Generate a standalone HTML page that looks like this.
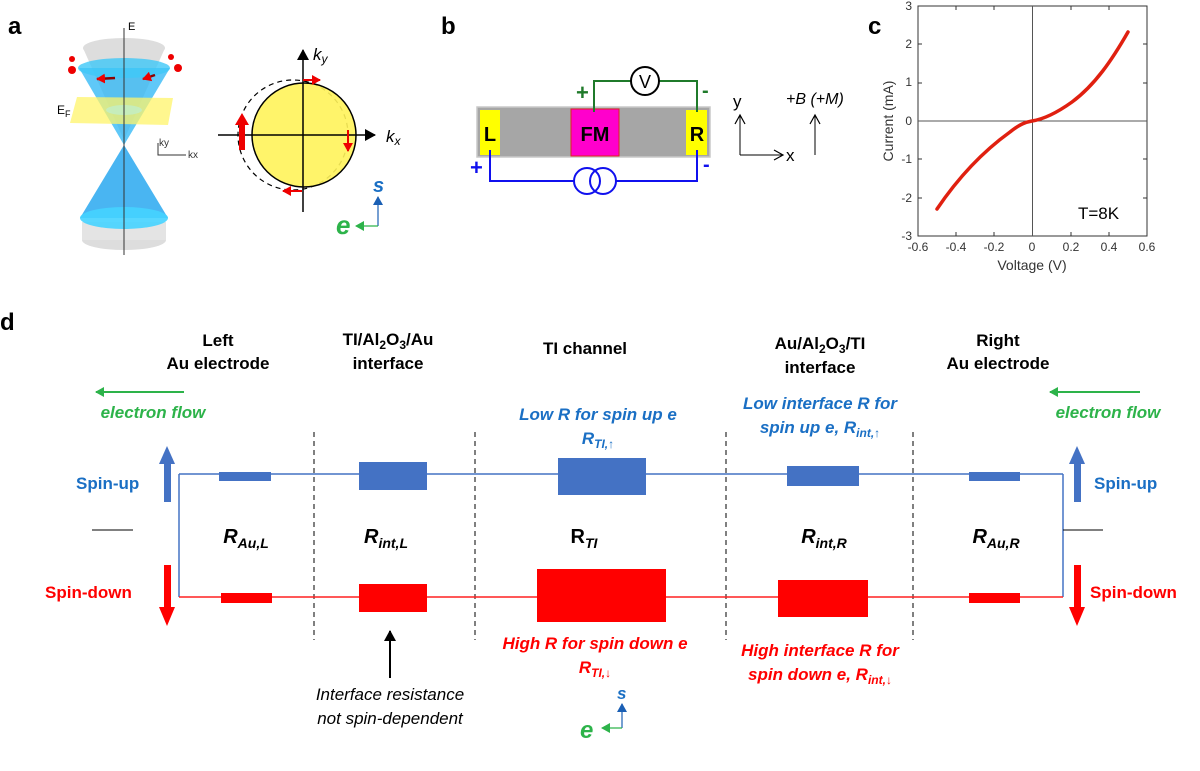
<!DOCTYPE html>
<html><head><meta charset="utf-8"><style>
html,body{margin:0;padding:0;background:#fff;}
svg{display:block;font-family:"Liberation Sans",sans-serif;}
.b{font-weight:bold}
.i{font-style:italic}
</style></head><body>
<svg width="1200" height="771" viewBox="0 0 1200 771" xmlns="http://www.w3.org/2000/svg">
<defs>
<marker id="ab" markerWidth="10" markerHeight="10" refX="8" refY="5" orient="auto" markerUnits="userSpaceOnUse"><path d="M0,0 L9,5 L0,10 z" fill="#1a5fb4"/></marker>
<marker id="ag" markerWidth="10" markerHeight="10" refX="8" refY="5" orient="auto" markerUnits="userSpaceOnUse"><path d="M0,0 L9,5 L0,10 z" fill="#2db34a"/></marker>
<marker id="ak" markerWidth="12" markerHeight="12" refX="10" refY="6" orient="auto" markerUnits="userSpaceOnUse"><path d="M0,0 L11,6 L0,12 z" fill="#000"/></marker>
<marker id="ao" markerWidth="12" markerHeight="12" refX="10" refY="6" orient="auto" markerUnits="userSpaceOnUse"><path d="M1,1 L10,6 L1,11" fill="none" stroke="#000" stroke-width="1.2"/></marker>
<marker id="ar" markerWidth="10" markerHeight="10" refX="8" refY="5" orient="auto" markerUnits="userSpaceOnUse"><path d="M0,0 L9,5 L0,10 z" fill="#e00"/></marker>
</defs>

<!-- Panel a -->
<text x="8" y="34" font-size="24" class="b">a</text>
<ellipse cx="124" cy="240" rx="42" ry="10" fill="#ddd"/>
<rect x="82" y="222" width="84" height="18" fill="#e4e4e4"/>
<path d="M124,48 L83,48 L124,140 L165,48 z" fill="#bbb" opacity="0.5"/>
<ellipse cx="124" cy="48" rx="41" ry="10" fill="#ddd"/>
<path d="M79,68 L124,145 L170,68 z" fill="#29b6f6" opacity="0.75"/>
<ellipse cx="124" cy="68" rx="46" ry="10" fill="#3ec8f8" opacity="0.8"/>
<path d="M124,145 L80,218 L168,218 z" fill="#29a8f0" opacity="0.85"/>
<ellipse cx="124" cy="218" rx="44" ry="11" fill="#45d3ff" opacity="0.9"/>
<path d="M70,123 L77,97 L173,98 L168,125 z" fill="#fff46a" opacity="0.75"/>
<ellipse cx="124" cy="110" rx="18" ry="5" fill="#bff0d0" opacity="0.7"/>
<line x1="124" y1="28" x2="124" y2="255" stroke="#333" stroke-width="1"/>
<text x="128" y="30" font-size="11">E</text>
<text x="57" y="114" font-size="12">E<tspan font-size="9" dy="3">F</tspan></text>
<line x1="115" y1="78" x2="97" y2="79" stroke="#8b0000" stroke-width="2.5" marker-end="url(#ar)"/>
<line x1="155" y1="75" x2="143" y2="79" stroke="#8b0000" stroke-width="2.5" marker-end="url(#ar)"/>
<circle cx="72" cy="70" r="4" fill="#e00"/><circle cx="72" cy="59" r="3" fill="#e00"/>
<circle cx="178" cy="68" r="4" fill="#e00"/><circle cx="171" cy="57" r="3" fill="#e00"/>
<path d="M158,143 L158,155 L186,155" fill="none" stroke="#333" stroke-width="1"/>
<text x="159" y="146" font-size="10" fill="#333">ky</text>
<text x="188" y="158" font-size="10" fill="#333">kx</text>

<circle cx="293" cy="135" r="55" fill="none" stroke="#000" stroke-dasharray="5,4" stroke-width="1.2"/>
<circle cx="304" cy="135" r="52" fill="#fff35a" fill-opacity="0.9" stroke="#000" stroke-width="1.5"/>
<line x1="218" y1="135" x2="375" y2="135" stroke="#000" stroke-width="1.5" marker-end="url(#ak)"/>
<line x1="303" y1="212" x2="303" y2="50" stroke="#000" stroke-width="1.5" marker-end="url(#ak)"/>
<text x="313" y="60" font-size="17" class="i">k<tspan font-size="12" dy="3">y</tspan></text>
<text x="386" y="142" font-size="17" class="i">k<tspan font-size="12" dy="3">x</tspan></text>
<rect x="239" y="124" width="6" height="26" fill="#e00"/><path d="M235,125 L242,113 L249,125 z" fill="#e00"/>
<line x1="303" y1="80" x2="320" y2="80" stroke="#e00" stroke-width="2" marker-end="url(#ar)"/>
<line x1="348" y1="130" x2="348" y2="151" stroke="#e00" stroke-width="2" marker-end="url(#ar)"/>
<line x1="302" y1="191" x2="283" y2="191" stroke="#e00" stroke-width="2" marker-end="url(#ar)"/>
<line x1="378" y1="226" x2="378" y2="197" stroke="#1a5fb4" stroke-width="1.2" marker-end="url(#ab)"/>
<line x1="378" y1="226" x2="356" y2="226" stroke="#2db34a" stroke-width="1.2" marker-end="url(#ag)"/>
<text x="373" y="192" font-size="20" fill="#1a6fc4" class="b i">s</text>
<text x="336" y="234" font-size="26" fill="#2db34a" class="b i">e</text>

<!-- Panel b -->
<text x="441" y="34" font-size="24" class="b">b</text>
<rect x="477" y="107" width="233" height="50" fill="#a6a6a6" stroke="#c8c8c8" stroke-width="1.5"/>
<rect x="480" y="110" width="20" height="45" fill="#ffff00"/>
<rect x="571" y="109" width="48" height="47" fill="#ff00cc" stroke="#e02020" stroke-width="1"/>
<rect x="686" y="110" width="21" height="45" fill="#ffff00"/>
<text x="490" y="141" font-size="20" class="b" text-anchor="middle">L</text>
<text x="595" y="141" font-size="20" class="b" text-anchor="middle">FM</text>
<text x="697" y="141" font-size="20" class="b" text-anchor="middle">R</text>
<path d="M594,112 L594,81 L631,81 M659,81 L697,81 L697,112" fill="none" stroke="#1f7a2a" stroke-width="2"/>
<circle cx="645" cy="81" r="14" fill="#fff" stroke="#000" stroke-width="2"/>
<text x="645" y="88" font-size="18" text-anchor="middle">V</text>
<text x="576" y="100" font-size="22" fill="#1f7a2a" class="b">+</text>
<text x="702" y="97" font-size="20" fill="#1f7a2a" class="b">-</text>
<path d="M490,150 L490,181 L574,181 M616,181 L697,181 L697,150" fill="none" stroke="#1010ee" stroke-width="2"/>
<circle cx="587" cy="181" r="13" fill="none" stroke="#1010ee" stroke-width="2"/>
<circle cx="603" cy="181" r="13" fill="none" stroke="#1010ee" stroke-width="2"/>
<text x="470" y="175" font-size="22" fill="#1010ee" class="b">+</text>
<text x="703" y="171" font-size="20" fill="#1010ee" class="b">-</text>
<text x="733" y="107" font-size="17">y</text>
<line x1="740" y1="155" x2="740" y2="115" stroke="#000" marker-end="url(#ao)"/>
<line x1="740" y1="155" x2="783" y2="155" stroke="#000" marker-end="url(#ao)"/>
<text x="786" y="161" font-size="17">x</text>
<text x="786" y="104" font-size="16" class="i">+B (+M)</text>
<line x1="815" y1="155" x2="815" y2="115" stroke="#000" marker-end="url(#ao)"/>

<!-- Panel c -->
<text x="868" y="34" font-size="24" class="b">c</text>
<rect x="918" y="6" width="229" height="230" fill="none" stroke="#333" stroke-width="1"/>
<line x1="918" y1="121" x2="1147" y2="121" stroke="#555"/>
<line x1="1032.5" y1="6" x2="1032.5" y2="236" stroke="#555"/>
<g font-size="12" fill="#333" text-anchor="end">
<text x="912" y="10">3</text><text x="912" y="48">2</text><text x="912" y="86">1</text><text x="912" y="125">0</text>
<text x="912" y="163">-1</text><text x="912" y="202">-2</text><text x="912" y="240">-3</text></g>
<g font-size="12" fill="#333" text-anchor="middle">
<text x="918" y="251">-0.6</text><text x="956" y="251">-0.4</text><text x="994" y="251">-0.2</text><text x="1032" y="251">0</text>
<text x="1071" y="251">0.2</text><text x="1109" y="251">0.4</text><text x="1147" y="251">0.6</text></g>
<g stroke="#333" stroke-width="1">
<path d="M918,44h4M918,83h4M918,159h4M918,198h4M1147,44h-4M1147,83h-4M1147,159h-4M1147,198h-4M956,236v-4M994,236v-4M1071,236v-4M1109,236v-4M956,6v4M994,6v4M1071,6v4M1109,6v4"/>
</g>
<text x="1032" y="270" font-size="14" fill="#333" text-anchor="middle">Voltage (V)</text>
<text transform="translate(893,121) rotate(-90)" font-size="14" fill="#333" text-anchor="middle">Current (mA)</text>
<text x="1078" y="219" font-size="17">T=8K</text>
<path id="iv" fill="none" stroke="#e02010" stroke-width="3.5" stroke-linecap="round" d="M937,209 C960,175 985,150 1010,132 C1020,124 1026,122 1032,121 C1045,119 1058,112 1072,102 C1095,85 1112,60 1128,32"/>

<!-- Panel d -->
<text x="0" y="330" font-size="24" class="b">d</text>
<g font-size="17" class="b" text-anchor="middle">
<text x="218" y="346">Left</text><text x="218" y="369">Au electrode</text>
<text x="388" y="345">TI/Al<tspan font-size="12" dy="4">2</tspan><tspan dy="-4">O</tspan><tspan font-size="12" dy="4">3</tspan><tspan dy="-4">/Au</tspan></text>
<text x="388" y="369">interface</text>
<text x="585" y="354">TI channel</text>
<text x="820" y="349">Au/Al<tspan font-size="12" dy="4">2</tspan><tspan dy="-4">O</tspan><tspan font-size="12" dy="4">3</tspan><tspan dy="-4">/TI</tspan></text>
<text x="820" y="373">interface</text>
<text x="998" y="346">Right</text><text x="998" y="369">Au electrode</text>
</g>
<g stroke="#2db34a" stroke-width="2">
<line x1="184" y1="392" x2="96" y2="392" marker-end="url(#ag)"/>
<line x1="1140" y1="392" x2="1050" y2="392" marker-end="url(#ag)"/>
</g>
<g font-size="17" class="b i" fill="#2db34a" text-anchor="middle">
<text x="153" y="418">electron flow</text><text x="1108" y="418">electron flow</text></g>
<g font-size="17" class="b i" fill="#1a6fc4" text-anchor="middle">
<text x="598" y="420">Low R for spin up e</text>
<text x="598" y="444">R<tspan font-size="12" dy="4">TI,↑</tspan></text>
<text x="820" y="409">Low interface R for</text>
<text x="820" y="433">spin up e, R<tspan font-size="12" dy="4">int,↑</tspan></text>
</g>
<g stroke="#000" stroke-dasharray="5,4" stroke-width="1">
<line x1="314" y1="432" x2="314" y2="640"/><line x1="475" y1="432" x2="475" y2="640"/>
<line x1="726" y1="432" x2="726" y2="640"/><line x1="913" y1="432" x2="913" y2="640"/></g>
<path d="M179,474 H1063 V597 H179 z" fill="none"/>
<line x1="179" y1="474" x2="1063" y2="474" stroke="#4472c4" stroke-width="1.5"/>
<line x1="179" y1="474" x2="179" y2="597" stroke="#4472c4" stroke-width="1.5"/>
<line x1="1063" y1="474" x2="1063" y2="597" stroke="#4472c4" stroke-width="1.5"/>
<line x1="179" y1="597" x2="1063" y2="597" stroke="#ff2020" stroke-width="1.5"/>
<line x1="92" y1="530" x2="133" y2="530" stroke="#000"/>
<line x1="1063" y1="530" x2="1103" y2="530" stroke="#000"/>
<g fill="#4472c4">
<rect x="219" y="472" width="52" height="9"/><rect x="359" y="462" width="68" height="28"/>
<rect x="558" y="458" width="88" height="37"/><rect x="787" y="466" width="72" height="20"/>
<rect x="969" y="472" width="51" height="9"/>
<rect x="164" y="462" width="7" height="40"/><path d="M159,464 L167,446 L175,464 z"/>
<rect x="1074" y="462" width="7" height="40"/><path d="M1069,464 L1077,446 L1085,464 z"/>
</g>
<g fill="#ff0000">
<rect x="221" y="593" width="51" height="10"/><rect x="359" y="584" width="68" height="28"/>
<rect x="537" y="569" width="129" height="53"/><rect x="778" y="580" width="90" height="37"/>
<rect x="969" y="593" width="51" height="10"/>
<rect x="164" y="565" width="7" height="44"/><path d="M159,607 L167,626 L175,607 z"/>
<rect x="1074" y="565" width="7" height="44"/><path d="M1069,607 L1077,626 L1085,607 z"/>
</g>
<g font-size="17" class="b">
<text x="76" y="489" fill="#1a6fc4">Spin-up</text><text x="1094" y="489" fill="#1a6fc4">Spin-up</text>
<text x="45" y="598" fill="#ff0000">Spin-down</text><text x="1090" y="598" fill="#ff0000">Spin-down</text>
</g>
<g font-size="20" class="b" text-anchor="middle">
<text x="246" y="543" class="i">R<tspan font-size="14" dy="5">Au,L</tspan></text>
<text x="386" y="543" class="i">R<tspan font-size="14" dy="5">int,L</tspan></text>
<text x="584" y="543">R<tspan font-size="14" dy="5" class="i">TI</tspan></text>
<text x="824" y="543" class="i">R<tspan font-size="14" dy="5">int,R</tspan></text>
<text x="996" y="543" class="i">R<tspan font-size="14" dy="5">Au,R</tspan></text>
</g>
<g font-size="17" class="b i" fill="#ff0000" text-anchor="middle">
<text x="595" y="649">High R for spin down e</text>
<text x="595" y="673">R<tspan font-size="12" dy="4">TI,↓</tspan></text>
<text x="820" y="656">High interface R for</text>
<text x="820" y="680">spin down e, R<tspan font-size="12" dy="4">int,↓</tspan></text>
</g>
<line x1="390" y1="678" x2="390" y2="631" stroke="#000" stroke-width="2" marker-end="url(#ak)"/>
<g font-size="17" class="i" text-anchor="middle">
<text x="390" y="700">Interface resistance</text><text x="390" y="724">not spin-dependent</text></g>
<line x1="622" y1="728" x2="622" y2="704" stroke="#1a5fb4" stroke-width="1.2" marker-end="url(#ab)"/>
<line x1="622" y1="728" x2="602" y2="728" stroke="#2db34a" stroke-width="1.2" marker-end="url(#ag)"/>
<text x="617" y="699" font-size="17" fill="#1a6fc4" class="b i">s</text>
<text x="580" y="738" font-size="24" fill="#2db34a" class="b i">e</text>
</svg>
</body></html>
